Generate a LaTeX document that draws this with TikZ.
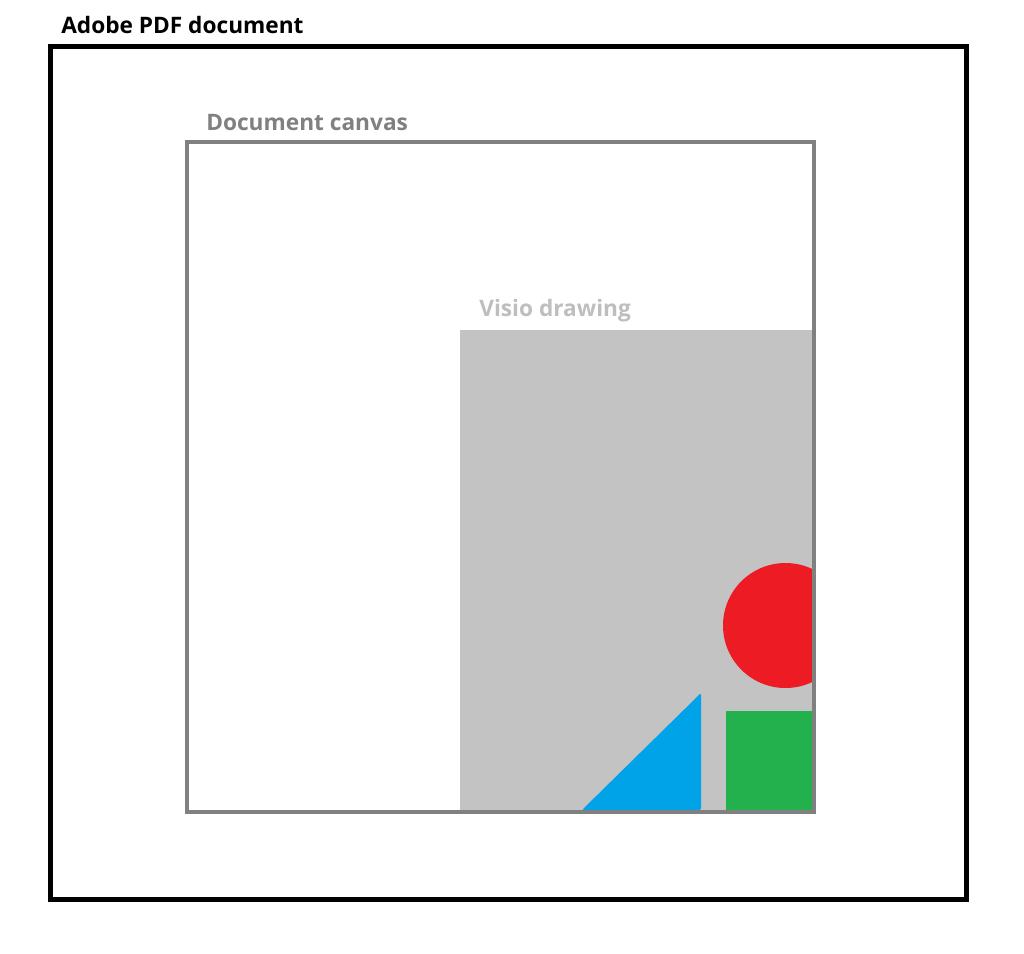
\documentclass[tikz,border=0pt]{standalone}
\usepackage{fontspec}
\newfontfamily\labelfont{Open Sans}
\usepackage{tikz}
\usetikzlibrary{positioning}

\definecolor{canvasgray}{HTML}{808080}
\definecolor{visiogray}{HTML}{C3C3C3}
\definecolor{visiotext}{HTML}{BEBEBE}
\definecolor{shapered}{HTML}{ED1C24}
\definecolor{shapegreen}{HTML}{22B14C}
\definecolor{shapeblue}{HTML}{00A2E8}

\begin{document}
\begin{tikzpicture}[
  x=0.75pt, y=-0.75pt,
  title/.style={
    anchor=base west, inner sep=0pt,
    font=\labelfont\bfseries\fontsize{17}{20}\selectfont
  },
  pdfbox/.style={draw=black, line width=3.4pt},
  canvasbox/.style={draw=canvasgray, line width=3pt}
]

\useasboundingbox (0,0) rectangle (1024,953);

% =====================================================
% VISIO DRAWING
% =====================================================

\fill[visiogray] (460,330) rectangle (812,810);

\begin{scope}
\clip (460,330) rectangle (812,810);
\fill[shapered] (785.5,625.5) circle (62.5);
\end{scope}

\fill[shapegreen] (726,711) rectangle (812,810);
\fill[shapeblue, rounded corners=1.5pt]
  (582,810) -- (701,693) -- (701,810) -- cycle;

\node[title, text=visiotext] (visiolabel) at (479,316) {Visio drawing};

% =====================================================
% DOCUMENT CANVAS
% =====================================================

\draw[canvasbox] (187,141.5) rectangle (814,811.5);
\node[title, text=canvasgray] (canvaslabel) at (206,130) {Document canvas};

% =====================================================
% PDF DOCUMENT
% =====================================================

\draw[pdfbox] (50.5,46.5) rectangle (966.5,899.5);
\node[title, text=black] (pdflabel) at (61,33) {Adobe PDF document};

\end{tikzpicture}
\end{document}
